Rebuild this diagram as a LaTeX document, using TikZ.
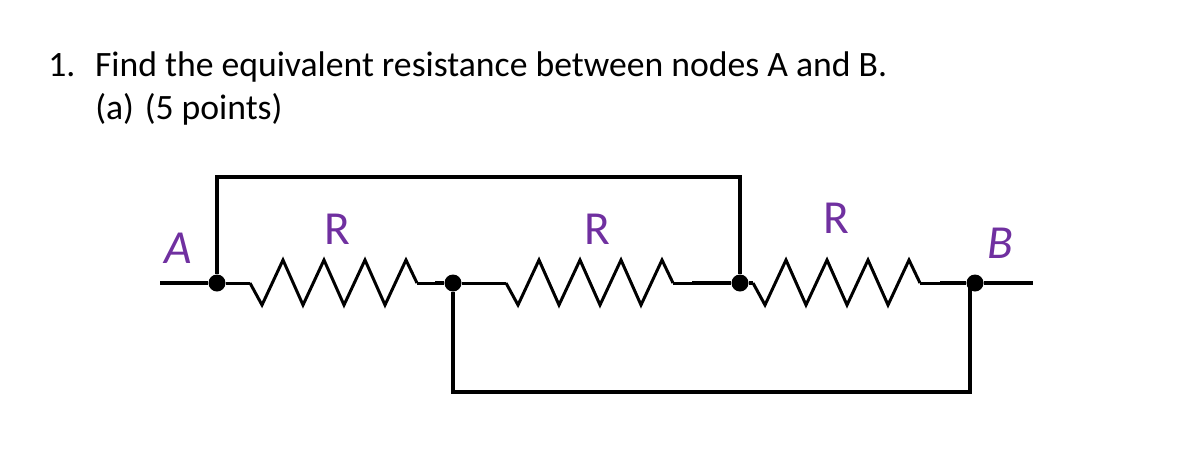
\documentclass[tikz,border=0pt]{standalone}
\usepackage{fontspec}
\setmainfont{Carlito}
\definecolor{lblpurple}{RGB}{112,48,160}
\begin{document}
\begin{tikzpicture}[x=0.02cm,y=-0.02cm,
    wire/.style={line width=2.4pt},
    res/.style={line width=1.7pt,line join=miter},
    dot/.style={circle,fill=black,inner sep=0pt,minimum size=0.34cm},
    lbl/.style={text=lblpurple,font=\fontsize{27}{30}\selectfont},
    txt/.style={anchor=base west,inner sep=0pt,font=\fontsize{20.3}{24}\selectfont}]
  \useasboundingbox (0,0) rectangle (1182,467);
  \node[txt] (t1) at (48,76) {1.\hspace{0.55em}Find the equivalent resistance between nodes A and B.};
  \node[txt] (t2) at (95,119) {(a)\hspace{0.3em}(5 points)};

  \coordinate (in) at (160,283);
  \node[dot] (A) at (217,283) {};
  \node[dot] (M) at (453,283) {};
  \node[dot] (N) at (740,283) {};
  \node[dot] (B) at (975,283) {};
  \coordinate (out) at (1033,283);
  \coordinate (r1a) at (250,283); \coordinate (r1b) at (417,283);
  \coordinate (r2a) at (506,283); \coordinate (r2b) at (673,283);
  \coordinate (r3a) at (753,283); \coordinate (r3b) at (920,283);

  % resistors
  \foreach \s in {r1a,r2a,r3a}
    \draw[res] (\s) -- ++(12,22) -- ++(21,-45) -- ++(20,45) -- ++(21,-45)
      -- ++(20,45) -- ++(21,-45) -- ++(20,45) -- ++(21,-45) -- ++(11,23);
  \draw[wire] (in) -- (A);
  \draw[res] (A) -- (r1a);
  \draw[res] (r1b) -- (435,283);
  \draw[wire] (435,283) -- (M);
  \draw[res] (M) -- (488,283) (r2a) -- (488,283);
  \draw[res] (r2b) -- (692,283);
  \draw[wire] (692,283) -- (N) -- (r3a);
  \draw[res] (r3b) -- (940,283);
  \draw[wire] (940,283) -- (B) -- (out);
  % shorting loops
  \draw[wire] (A) |- (740,177) -- (N);
  \draw[wire] (M) |- (970,392) -- (970,283);

  \node[lbl] (la) at (178,248) {\itshape A};
  \node[lbl] (lb) at (1000,243) {\itshape B};
  \node[lbl] (l1) at (337,229) {R};
  \node[lbl] (l2) at (597,229) {R};
  \node[lbl] (l3) at (836,218) {R};
\end{tikzpicture}
\end{document}
